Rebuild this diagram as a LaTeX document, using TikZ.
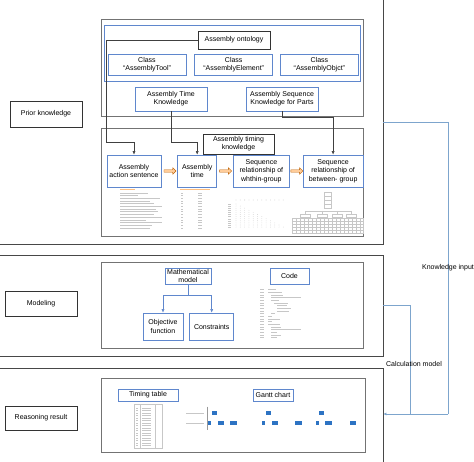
\documentclass[tikz,border=0pt]{standalone}
\usepackage{fontspec}
\setmainfont{Liberation Sans}
\usetikzlibrary{arrows.meta, positioning, calc, shapes.arrows}
\definecolor{boxblue}{RGB}{95,135,205}
\definecolor{fbblue}{RGB}{125,165,205}
\definecolor{barblue}{RGB}{45,115,195}
\tikzset{
  panel/.style={rectangle, draw=black!72, line width=0.9pt},
  grp/.style={rectangle, draw=black!55, line width=0.6pt},
  bbox/.style={rectangle, draw=boxblue, line width=0.7pt, fill=white,
               align=center, inner sep=1pt, font=\fontsize{7}{8.3}\selectfont},
  kbox/.style={bbox, draw=black!80},
  side/.style={kbox, minimum width=72pt},
  conn/.style={-{Latex[length=3.5pt,width=3pt]}, draw=black!75, line width=0.5pt},
  bconn/.style={conn, draw=boxblue},
  flow/.style={single arrow, draw=orange!75!black, fill=orange!40,
               minimum height=12pt, minimum width=6.5pt,
               single arrow head extend=1.3pt, inner sep=0.6pt},
  fb/.style={draw=fbblue, line width=0.7pt},
  note/.style={font=\fontsize{7}{8.3}\selectfont},
  img/.style={draw=black!22, line width=0.35pt},
  bar/.style={fill=barblue, draw=none},
}

\begin{document}
\begin{tikzpicture}[x=1pt, y=-1pt]

  \useasboundingbox (0,0) rectangle (474,462);
  \fill[white] (0,0) rectangle (474,462);

  % three layers
  \node[panel, minimum width=386pt, minimum height=249pt] (pk) at (190,119.5) {};
  \node[panel, minimum width=386pt, minimum height=101pt] (md) at (190,305.5) {};
  \node[panel, minimum width=386pt, minimum height=107pt] (rr) at (190,421.5) {};

  \node[side, minimum height=26pt] (prior)  at (46,114)   {Prior knowledge};
  \node[side, minimum height=25pt] (model)  at (41,303.5) {Modeling};
  \node[side, minimum height=24pt] (reason) at (41,418)   {Reasoning result};

  % prior knowledge
  \node[grp, minimum width=262pt, minimum height=97pt] (kbase) at (232,67.5) {};
  \node[grp, draw=boxblue, minimum width=256pt, minimum height=56pt] (ontobox) at (232,53) {};
  \node[kbox, minimum width=72pt, minimum height=18pt] (onto) at (234,40) {Assembly ontology};

  \node[bbox, minimum width=78pt, minimum height=21pt] (tool) at (147,64.5)
    {Class\\“AssemblyTool”};
  \node[bbox, minimum width=78pt, minimum height=21pt, right=8pt of tool] (elem)
    {Class\\“AssemblyElement”};
  \node[bbox, minimum width=78pt, minimum height=21pt, right=7pt of elem] (objct)
    {Class\\“AssemblyObjct”};

  \node[bbox, minimum width=72pt, minimum height=24pt] (timek) at (171,99)
    {Assembly Time\\Knowledge};
  \node[bbox, minimum width=72pt, minimum height=24pt] (seqk) at (282,99)
    {Assembly Sequence\\Knowledge for Parts};

  \node[grp, minimum width=262pt, minimum height=108pt] (proc) at (232,182) {};
  \node[bbox, minimum width=54pt, minimum height=32pt] (action) at (134,171)
    {Assembly\\action sentence};
  \node[bbox, minimum width=39pt, minimum height=32pt, right=16pt of action] (atime)
    {Assembly\\time};
  \node[bbox, minimum width=56pt, minimum height=32pt, right=16pt of atime] (within)
    {Sequence\\relationship of\\whthin-group};
  \node[bbox, minimum width=60pt, minimum height=32pt, right=13pt of within] (between)
    {Sequence\\relationship of\\between- group};
  \node[kbox, minimum width=71pt, minimum height=20pt] (timing) at (238.5,144)
    {Assembly timing\\knowledge};

  \node[flow] (f1) at ($(action.east)!.5!(atime.west)$) {};
  \node[flow] (f2) at ($(atime.east)!.5!(within.west)$) {};
  \node[flow] (f3) at ($(within.east)!.5!(between.west)$) {};

  \draw[conn] (onto.west) -- ++(-91,0) |- ($(action.north)+(0,-12)$) -- (action.north);
  \draw[conn] (timek.south) -- ++(0,31) -| (atime.north);
  \draw[conn] (seqk.south) -- ++(0,6) -| (between.north);

  % screenshots under the process row
  \draw[orange!50, line width=0.5pt] (120,189.5) -- ++(15,0) (180,189.5) -- ++(30,0);
  \foreach \l [count=\i] in {28,18,40,30,34,42,36,38,34,42,26,42,32,30}
    \draw[img] (120,{190+2.7*\i}) -- ++(\l,0) (181,{190+2.7*\i}) -- ++(2,0)
               (198,{190+2.7*\i}) -- ++(4,0);
  \foreach \c in {0,...,11} {
    \fill[black!25] ({236+4.3*\c},200) circle (0.4pt);
    \foreach \r in {\c,...,11}
      \fill[black!22] ({236+4.3*\c},{204+2.1*\r}) circle (0.35pt);
  }
  \foreach \r in {0,...,11} \draw[img] (228,{204+2.1*\r}) -- ++(3,0);
  \draw[img] (324,192) rectangle (331,208);
  \foreach \y in {196,200,204} \draw[img] (324,\y) -- (331,\y);
  \draw[img] (305,211) -- (351,211);
  \foreach \x in {305,322,337,351} {
    \draw[img] (\x,211) -- (\x,214);
    \draw[img] ({\x-5},214) rectangle ({\x+5},217);
  }
  \draw[img] (292,218) rectangle (363,233);
  \foreach \y in {221,224,227,230} \draw[img] (292,\y) -- (363,\y);
  \foreach \x in {296,300,...,360} \draw[img] (\x,218) -- (\x,233);

  % modeling
  \node[grp, minimum width=262pt, minimum height=86pt] (mbox) at (232,305) {};
  \node[bbox, minimum width=46pt, minimum height=16pt] (math) at (188,276)
    {Mathematical\\model};
  \node[bbox, minimum width=39pt, minimum height=16pt] (code) at (289.5,276) {Code};
  \node[bbox, minimum width=40pt, minimum height=27pt] (obj) at (163,326.5)
    {Objective\\function};
  \node[bbox, minimum width=44pt, minimum height=27pt, right=6pt of obj] (cons) {Constraints};

  \draw[bconn] (math.south) -- ++(0,11) coordinate (split) -| (obj.north);
  \draw[bconn] (split) -| (cons.north);

  \foreach \ind/\l [count=\i] in {0/8,0/14,3/12,3/30,3/8,6/14,9/10,9/14,9/12,3/4,
                                  0/4,0/12,0/4,0/12,3/10,3/30,3/6,3/10,3/6}
    \draw[img] (260,{287+2.65*\i}) -- ++(4,0) ({268+\ind},{287+2.65*\i}) -- ++(\l,0);

  % reasoning result
  \node[grp, minimum width=264pt, minimum height=74pt] (rbox) at (233,415) {};
  \node[bbox, minimum width=60pt, minimum height=12pt] (ttab) at (148,395) {Timing table};
  \node[bbox, minimum width=40pt, minimum height=12pt] (gantt) at (273,395) {Gantt chart};

  \draw[img] (134,404) rectangle (162,448);
  \draw[img] (140,404) -- (140,448) (155,404) -- (155,448);
  \foreach \i in {0,...,15}
    \draw[img] (142,{408+2.5*\i}) -- ++(9,0) (136,{408+2.5*\i}) -- ++(2,0);

  \draw[img] (186,412.7) -- ++(18,0) (186,423.3) -- ++(18,0);
  \draw[black!40, line width=0.4pt] (206.7,406.7) -- (206.7,430);
  \foreach \a/\b in {211.7/217.3, 265.7/271, 319/324}
    \fill[bar] (\a,410.7) rectangle (\b,414.7);
  \foreach \a/\b in {208/211, 217.7/224.3, 230/237, 262/265, 271.7/278.3,
                     295/302, 316/318.7, 325/332, 349.7/356.3}
    \fill[bar] (\a,421.3) rectangle (\b,425.3);

  % feedback lines
  \coordinate (kin) at (448,414);
  \coordinate (cin) at (410,414);
  \draw[fb] ([yshift=-3pt]pk.east) -| (kin);
  \draw[fb] (md.east) -| (cin);
  \draw[fb, -{Latex[length=3pt,width=3pt]}] (kin) -- (rr.east |- kin);

  \node[note] (kinput) at (448,268) {Knowledge input};
  \node[note] (cmodel) at (414,364) {Calculation model};

\end{tikzpicture}
\end{document}
